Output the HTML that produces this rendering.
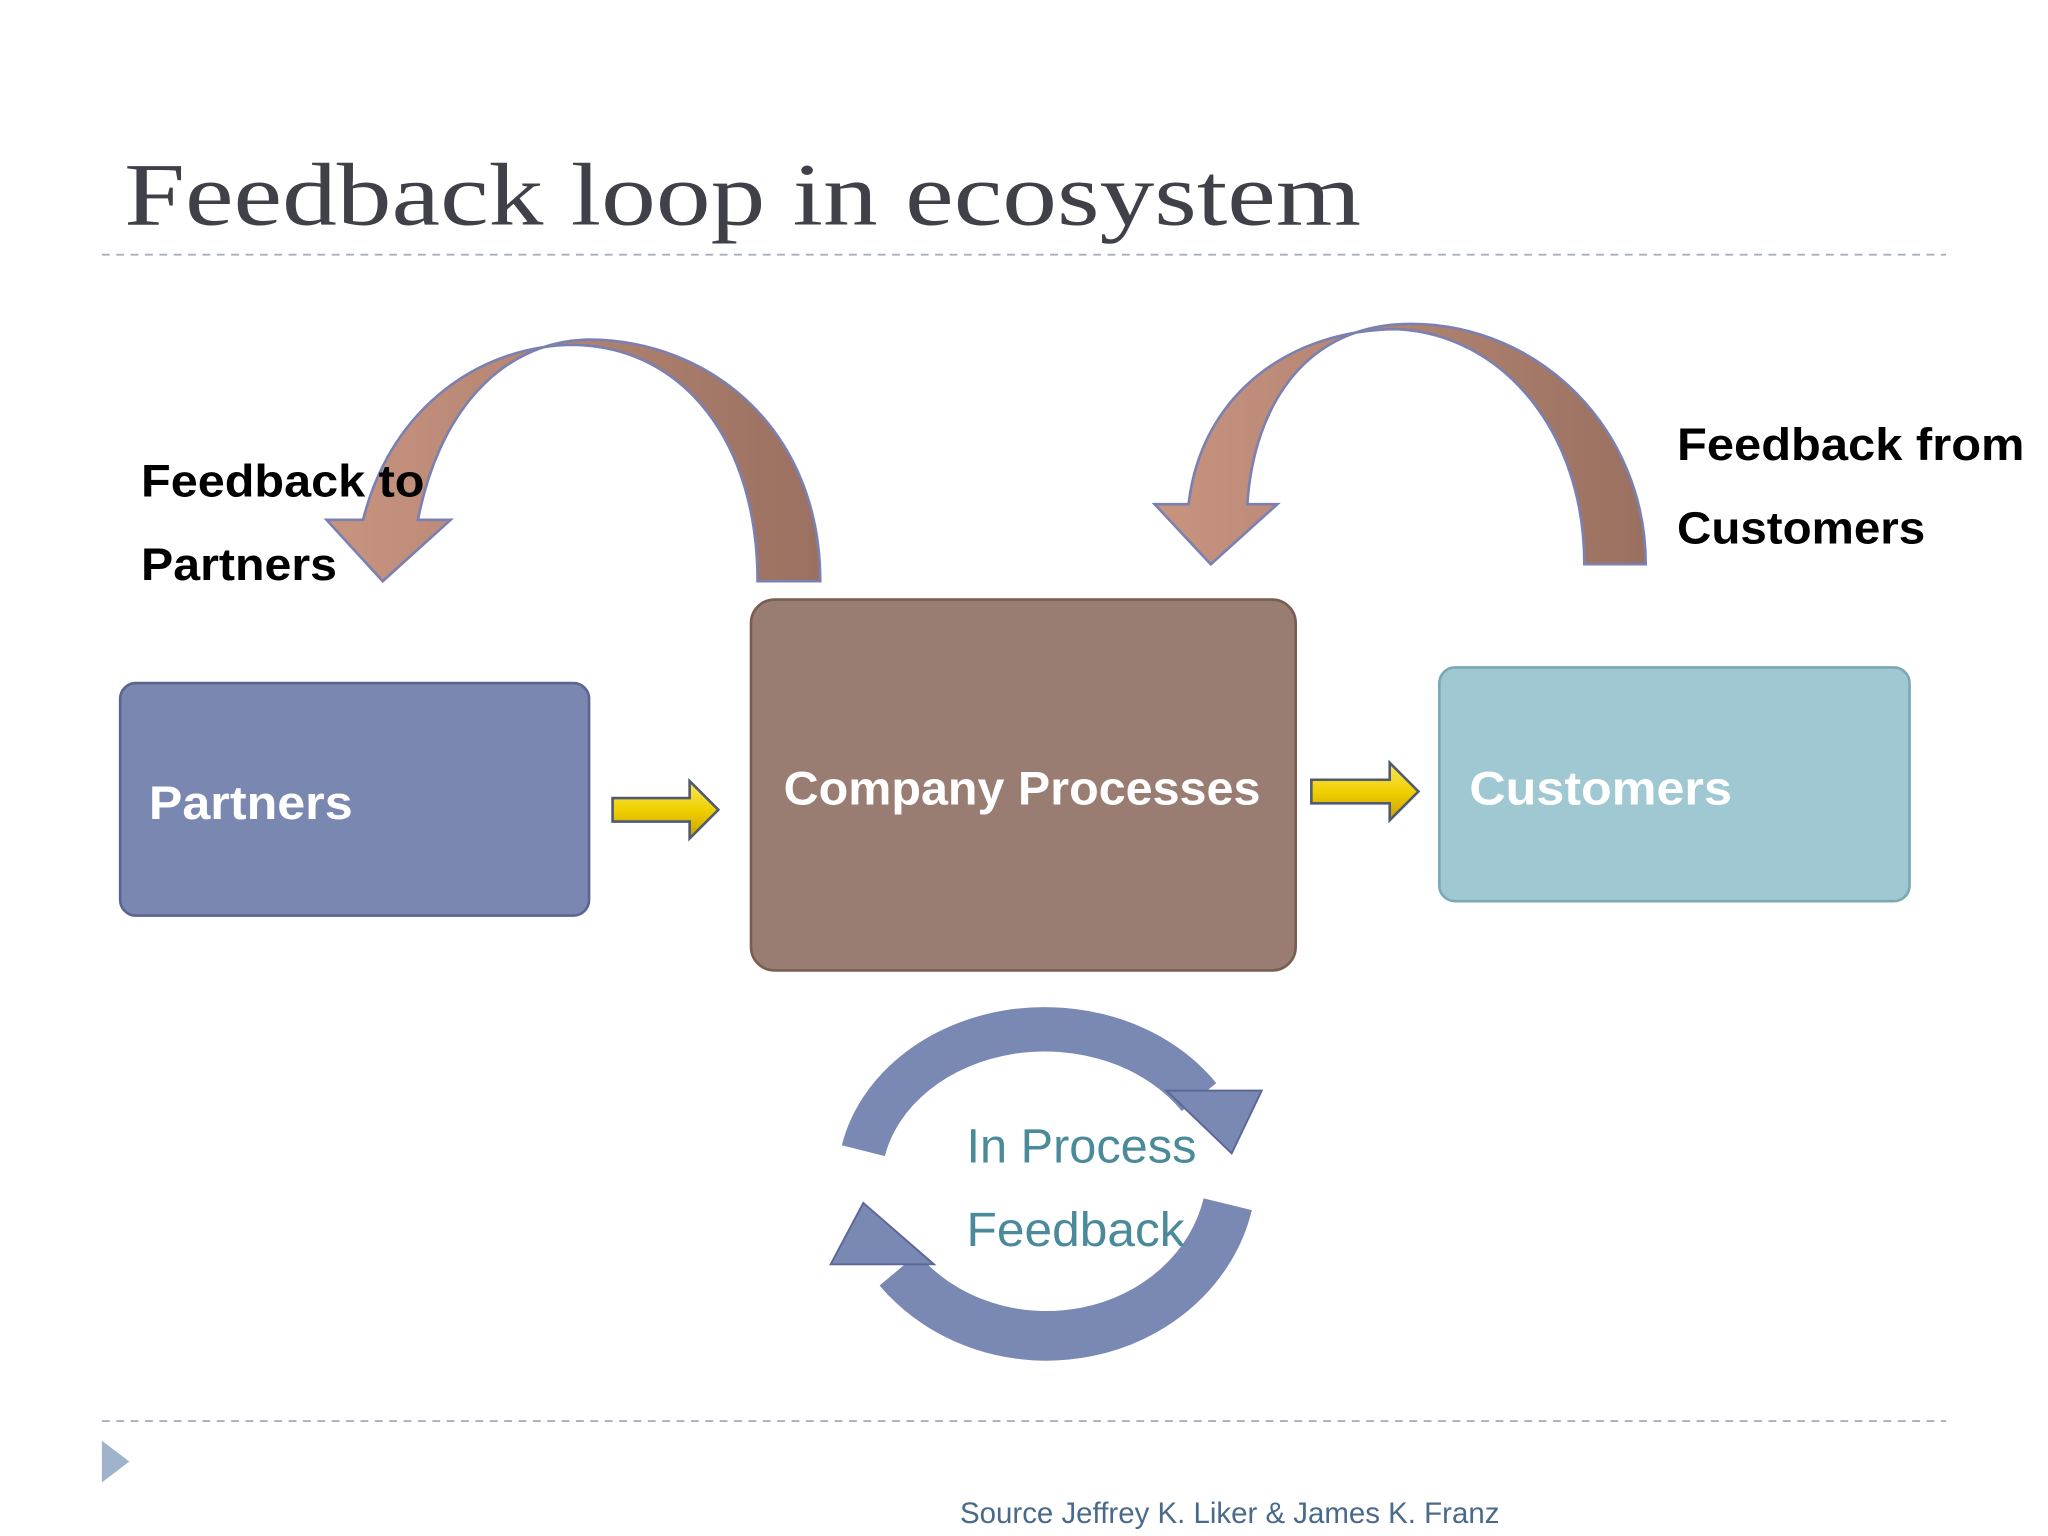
<!DOCTYPE html>
<html><head><meta charset="utf-8">
<style>
html,body{margin:0;padding:0;background:#fff;}
svg{display:block;}
</style></head>
<body>
<svg width="2048" height="1536" viewBox="0 0 1568 1176" xmlns="http://www.w3.org/2000/svg">
<defs>
<linearGradient id="yel" x1="0" y1="0" x2="0" y2="1">
<stop offset="0" stop-color="#f8e860"/><stop offset="0.5" stop-color="#f0d000"/><stop offset="1" stop-color="#c8a000"/>
</linearGradient>
<linearGradient id="arcL" x1="0" y1="0" x2="1" y2="0">
<stop offset="0" stop-color="#c89480"/><stop offset="1" stop-color="#9a7060"/>
</linearGradient>
</defs>
<rect width="1568" height="1176" fill="#fff"/>
<text x="95" y="172" font-family="Liberation Serif, serif" font-size="68" fill="#404048" textLength="947" lengthAdjust="spacingAndGlyphs">Feedback loop in ecosystem</text>
<line x1="78" y1="195" x2="1490" y2="195" stroke="#a8b0c0" stroke-width="1.5" stroke-dasharray="6,5"/>
<line x1="78" y1="1088" x2="1490" y2="1088" stroke="#a8b0c0" stroke-width="1.5" stroke-dasharray="6,5"/>
<polygon points="78,1103 99,1119 78,1135" fill="#9fb4cc"/>
<text x="735" y="1166" font-family="Liberation Sans, sans-serif" font-size="23" fill="#4a6a8a" textLength="413" lengthAdjust="spacingAndGlyphs">Source Jeffrey K. Liker &amp; James K. Franz</text>

<!-- boxes -->
<rect x="92" y="523" width="359" height="178" rx="12" fill="#7a87b0" stroke="#5a6690" stroke-width="2"/>
<text x="114" y="627" font-family="Liberation Sans, sans-serif" font-weight="bold" font-size="36" fill="#fff" textLength="156" lengthAdjust="spacingAndGlyphs">Partners</text>
<rect x="575" y="459" width="417" height="284" rx="18" fill="#9a7d72" stroke="#7a5d52" stroke-width="2"/>
<text x="600" y="616" font-family="Liberation Sans, sans-serif" font-weight="bold" font-size="36" fill="#fff" textLength="365" lengthAdjust="spacingAndGlyphs">Company Processes</text>
<rect x="1102" y="511" width="360" height="179" rx="12" fill="#a0c8d2" stroke="#7aa8b4" stroke-width="2"/>
<text x="1125" y="616" font-family="Liberation Sans, sans-serif" font-weight="bold" font-size="36" fill="#fff" textLength="201" lengthAdjust="spacingAndGlyphs">Customers</text>

<!-- yellow arrows -->
<polygon points="469,611 528,611 528,598 550,620 528,642 528,629 469,629" fill="url(#yel)" stroke="#505a70" stroke-width="2"/>
<polygon points="1004,597 1064,597 1064,584 1086,606 1064,628 1064,615 1004,615" fill="url(#yel)" stroke="#505a70" stroke-width="2"/>

<!-- left feedback arrow -->
<path d="M580,445 L628,445 C628,330 545,260 450,260 C380,262 335,320 320,398 L345,398 L293,445 L250,398 L278,398 C300,310 370,264 440,264 C525,266 580,340 580,445 Z" fill="url(#arcL)" stroke="#7a80b0" stroke-width="2"/>
<!-- right feedback arrow -->
<path d="M1213,432 L1260,432 C1260,330 1180,248 1080,248 C1000,248 960,310 955,386 L978,386 L927,432 L884,386 L910,386 C920,300 990,252 1070,252 C1150,256 1213,330 1213,432 Z" fill="url(#arcL)" stroke="#7a80b0" stroke-width="2"/>

<text x="108" y="380" font-family="Liberation Sans, sans-serif" font-weight="bold" font-size="35" fill="#000" textLength="217" lengthAdjust="spacingAndGlyphs">Feedback to</text>
<text x="108" y="444" font-family="Liberation Sans, sans-serif" font-weight="bold" font-size="35" fill="#000" textLength="150" lengthAdjust="spacingAndGlyphs">Partners</text>
<text x="1284" y="352" font-family="Liberation Sans, sans-serif" font-weight="bold" font-size="35" fill="#000" textLength="266" lengthAdjust="spacingAndGlyphs">Feedback from</text>
<text x="1284" y="416" font-family="Liberation Sans, sans-serif" font-weight="bold" font-size="35" fill="#000" textLength="190" lengthAdjust="spacingAndGlyphs">Customers</text>

<!-- circular arrows -->
<path d="M661,881 A142,117 0 0 1 918,840" fill="none" stroke="#7a88b4" stroke-width="34"/>
<polygon points="893,835 966,835 943,883" fill="#7a88b4" stroke="#5a6898" stroke-width="1.5"/>
<path d="M940,922 A142,128 0 0 1 688,972" fill="none" stroke="#7a88b4" stroke-width="38"/>
<polygon points="661,921 715,968 636,968" fill="#7a88b4" stroke="#5a6898" stroke-width="1.5"/>

<text x="740" y="890" font-family="Liberation Sans, sans-serif" font-size="37" fill="#4a8a9a" textLength="176" lengthAdjust="spacingAndGlyphs">In Process</text>
<text x="740" y="954" font-family="Liberation Sans, sans-serif" font-size="37" fill="#4a8a9a" textLength="167" lengthAdjust="spacingAndGlyphs">Feedback</text>
</svg>
</body></html>
